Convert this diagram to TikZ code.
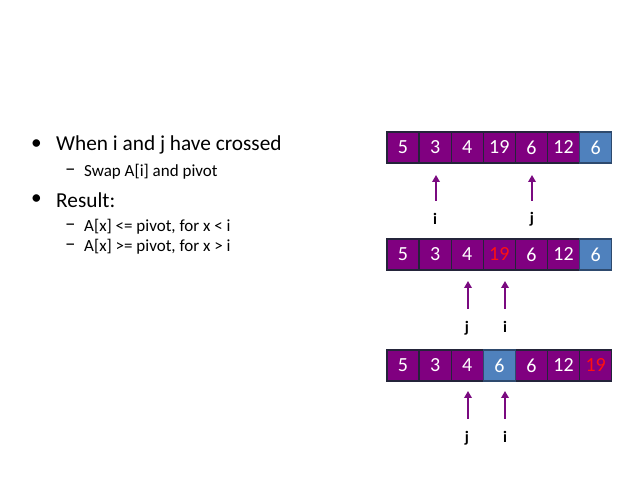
\documentclass[tikz,border=0pt]{standalone}
\usepackage{fontspec}
\setmainfont{Carlito}
\usetikzlibrary{arrows.meta}
\definecolor{cellpurple}{HTML}{800080}
\definecolor{cellblue}{HTML}{4F81BD}
\definecolor{bordercol}{HTML}{24243A}
\definecolor{blueborder}{HTML}{2E4A6E}
\definecolor{arrowcol}{HTML}{7A0A80}
\definecolor{hotred}{HTML}{FF1010}
\begin{document}
\begin{tikzpicture}[x=1pt,y=-1pt,
  cell/.style={draw=bordercol, line width=1.3pt, fill=cellpurple, minimum width=32.1pt, minimum height=31pt, text=white, font=\fontsize{20}{20}\selectfont, inner sep=0pt},
  bluecell/.style={cell, fill=cellblue, draw=blueborder},
  ptr/.style={draw=arrowcol, line width=2.4pt, -{Triangle[width=7.5pt,length=7pt]}},
  lbl/.style={font=\fontsize{16}{16}\selectfont\bfseries, inner sep=0pt},
  bigtxt/.style={font=\fontsize{21.3}{21.3}\selectfont, anchor=west, inner sep=0pt},
  smalltxt/.style={font=\fontsize{17}{17}\selectfont, anchor=west, inner sep=0pt},
  dashtxt/.style={font=\fontsize{21}{21}\selectfont, anchor=west, inner sep=0pt}]
\useasboundingbox (0,0) rectangle (638,478);
\fill[white] (0,0) rectangle (638,478);

% bullet text
\node[bigtxt] (b1) at (31,145) {\textbullet};
\node[bigtxt] (t1) at (56,145) {When i and j have crossed};
\node[dashtxt] (d1) at (65,172) {–};
\node[smalltxt] (s1) at (84,172) {Swap A[i] and pivot};
\node[bigtxt] (b2) at (31,200) {\textbullet};
\node[bigtxt] (t2) at (56,200) {Result:};
\node[dashtxt] (d2) at (65,227) {–};
\node[smalltxt] (s2) at (84,227) {A[x] <= pivot, for x < i};
\node[dashtxt] (d3) at (65,247) {–};
\node[smalltxt] (s3) at (84,247) {A[x] >= pivot, for x > i};

% row 1
\node[cell] (a1) at (403.05,147.5) {5};
\node[cell] (a2) at (435.15,147.5) {3};
\node[cell] (a3) at (467.25,147.5) {4};
\node[cell] (a4) at (499.35,147.5) {19};
\node[cell] (a5) at (531.45,147.5) {6};
\node[cell] (a6) at (563.55,147.5) {12};
\node[bluecell] (a7) at (595.65,147.5) {\raisebox{-2pt}{6}};
\coordinate (ai0) at (436,201);
\coordinate (ai1) at (436,175);
\coordinate (aj0) at (532,201);
\coordinate (aj1) at (532,175);
\draw[ptr] (ai0) -- (ai1);
\draw[ptr] (aj0) -- (aj1);
\node[lbl] (li1) at (435,219) {i};
\node[lbl] (lj1) at (532,219) {j};

% row 2
\node[cell] (b1c) at (403.05,254.5) {5};
\node[cell] (b2c) at (435.15,254.5) {3};
\node[cell] (b3c) at (467.25,254.5) {4};
\node[cell, text=hotred] (b4c) at (499.35,254.5) {19};
\node[cell] (b5c) at (531.45,254.5) {6};
\node[cell] (b6c) at (563.55,254.5) {12};
\node[bluecell] (b7c) at (595.65,254.5) {\raisebox{-2pt}{6}};
\coordinate (bj0) at (468,309);
\coordinate (bj1) at (468,281);
\coordinate (bi0) at (505,309);
\coordinate (bi1) at (505,281);
\draw[ptr] (bj0) -- (bj1);
\draw[ptr] (bi0) -- (bi1);
\node[lbl] (lj2) at (467,328) {j};
\node[lbl] (li2) at (505,327) {i};

% row 3
\node[cell] (c1) at (403.05,365.5) {5};
\node[cell] (c2) at (435.15,365.5) {3};
\node[cell] (c3) at (467.25,365.5) {4};
\node[cell] (c5) at (531.45,365.5) {6};
\node[cell] (c6) at (563.55,365.5) {12};
\node[cell, text=hotred] (c7) at (595.65,365.5) {19};
\node[bluecell] (c4) at (499.35,365.5) {\raisebox{-3pt}{6}};
\coordinate (cj0) at (468,419);
\coordinate (cj1) at (468,391);
\coordinate (ci0) at (505,419);
\coordinate (ci1) at (505,391);
\draw[ptr] (cj0) -- (cj1);
\draw[ptr] (ci0) -- (ci1);
\node[lbl] (lj3) at (467,438) {j};
\node[lbl] (li3) at (505,437) {i};
\end{tikzpicture}
\end{document}
